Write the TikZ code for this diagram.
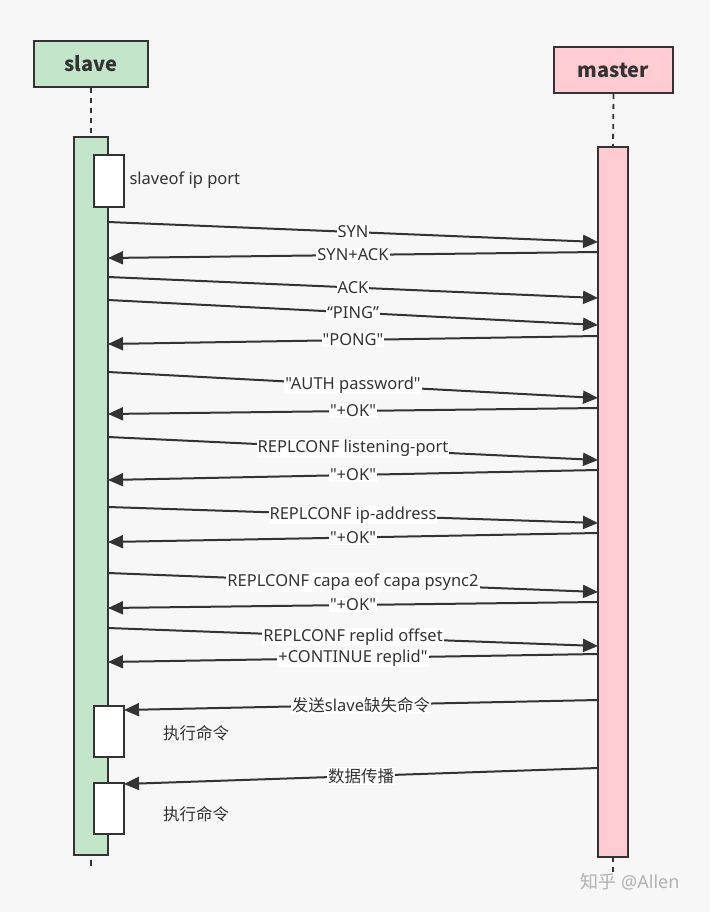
\documentclass[tikz,border=0pt]{standalone}
\usepackage{fontspec}
\setmainfont{Noto Sans}[Ligatures=TeXOff]
\newfontfamily\cjk{Noto Sans CJK SC}[Ligatures=TeXOff]
\usetikzlibrary{arrows.meta}
\definecolor{sgreen}{HTML}{C3E6CB}
\definecolor{mpink}{HTML}{FFCCD3}
\definecolor{ln}{HTML}{333333}
\newcommand\qq{"}
\begin{document}
\begin{tikzpicture}[x=1pt,y=-1pt,
  box/.style={draw=ln,line width=1.8pt,inner sep=0pt},
  msg/.style={draw=ln,line width=2pt,-{Triangle[length=15pt,width=13pt]}},
  lbl/.style={fill=white,inner sep=1pt,font=\fontsize{16.5}{18}\selectfont,text=ln},
  txt/.style={font=\fontsize{16.5}{18}\selectfont,text=ln}]
\fill[fill=black!3] (0,0) rectangle (710,912);
\useasboundingbox (0,0) rectangle (710,912);
% heads
\node[box,fill=sgreen,minimum width=114pt,minimum height=46pt,font=\cjk\bfseries\fontsize{20}{22}\selectfont,text=ln] (slave) at (91,64) {slave};
\node[box,fill=mpink,minimum width=119pt,minimum height=46pt,font=\cjk\bfseries\fontsize{20}{22}\selectfont,text=ln] (master) at (613.5,70) {master};
\coordinate (sb) at (91,137); \coordinate (mb) at (613,147);
\draw[ln,line width=1.8pt,dash pattern=on 5pt off 5pt] (slave.south) -- (sb);
\draw[ln,line width=1.8pt,dash pattern=on 5pt off 5pt] (master.south) -- (mb);
% bars
\draw[box,fill=sgreen] (74,137) rectangle (108,855);
\draw[box,fill=mpink] (598,147) rectangle (628,857);
\coordinate (se) at (91,860); \coordinate (se2) at (91,866);
\draw[ln,line width=1.8pt] (se) -- (se2);
\coordinate (me) at (613,857); \coordinate (me2) at (613,872);
\draw[ln,line width=1.8pt,dash pattern=on 5pt off 5pt] (me) -- (me2);
\draw[box,fill=white] (94,155) rectangle (124,207);
\node[txt,anchor=west] (t0) at (126,180) {slaveof ip port};
\draw[box,fill=white] (94,706) rectangle (124,757);
\draw[box,fill=white] (94,783) rectangle (124,834);
\node[txt,font=\cjk\fontsize{16.5}{18}\selectfont] (t1) at (196,733) {执行命令};
\node[txt,font=\cjk\fontsize{16.5}{18}\selectfont] (t2) at (196,814) {执行命令};
% messages
\newcommand\rmsg[4]{\coordinate (a#4) at (108,#1); \coordinate (b#4) at (598,#2);
  \draw[msg] (a#4) -- (b#4) node[lbl,pos=0.5] {#3};}
\newcommand\lmsg[4]{\coordinate (a#4) at (598,#1); \coordinate (b#4) at (108,#2);
  \draw[msg] (a#4) -- (b#4) node[lbl,pos=0.5] {#3};}
\rmsg{222}{242}{SYN}{1}
\lmsg{252}{258}{SYN+ACK}{2}
\rmsg{277}{298}{ACK}{3}
\rmsg{300}{325}{“PING”}{4}
\lmsg{336}{344}{\qq PONG\qq}{5}
\rmsg{372}{398}{\qq AUTH password\qq}{6}
\lmsg{408}{414}{\qq +OK\qq}{7}
\rmsg{437}{460}{REPLCONF listening-port}{8}
\lmsg{470}{480}{\qq +OK\qq}{9}
\rmsg{507}{523}{REPLCONF ip-address}{10}
\lmsg{533}{542}{\qq +OK\qq}{11}
\rmsg{573}{592}{REPLCONF capa eof capa psync2}{12}
\lmsg{602}{608}{\qq +OK\qq}{13}
\rmsg{628}{646}{REPLCONF replid offset}{14}
\lmsg{654}{662}{+CONTINUE replid\qq}{15}
\coordinate (a16) at (598,700); \coordinate (b16) at (124,710);
\draw[msg] (a16) -- (b16) node[lbl,pos=0.5] {{\cjk 发送}slave{\cjk 缺失命令}};
\coordinate (a17) at (598,768); \coordinate (b17) at (124,784);
\draw[msg] (a17) -- (b17) node[lbl,pos=0.5,font=\cjk\fontsize{16.5}{18}\selectfont] {数据传播};
\node[font=\fontsize{18}{20}\selectfont,text=black!30] (wm) at (630,882) {{\cjk 知乎} @Allen};
\end{tikzpicture}
\end{document}
